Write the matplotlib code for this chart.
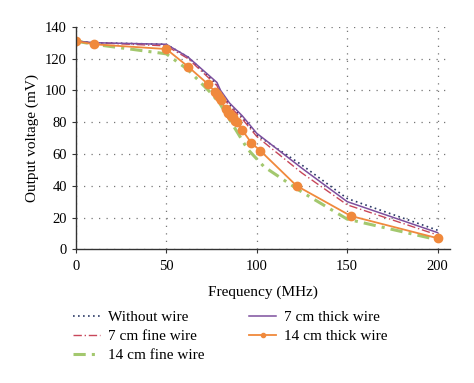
import matplotlib.pyplot as plt

plt.rcParams['font.family'] = ['Liberation Serif', 'DejaVu Serif']

# Without wire
x_none = [0, 10, 50, 62, 78, 80, 85, 92, 100, 125, 150, 200]
y_none = [131, 130, 129, 121, 104, 99, 91, 83, 72, 53, 32, 12]
# 7 cm fine wire
x_7fine = [0, 10, 50, 62, 78, 80, 85, 92, 100, 125, 150, 200]
y_7fine = [131, 130, 128, 120, 103, 98, 90, 82, 71, 48, 28, 9]
# 14 cm fine wire
x_14fine = [0, 10, 50, 62, 75, 80, 88, 95, 104, 125, 150, 200]
y_14fine = [131, 129, 123, 113, 98, 91, 76, 63, 52, 36, 19, 6]
# 7 cm thick wire
x_7thick = [0, 10, 50, 62, 78, 80, 85, 92, 100, 125, 150, 200]
y_7thick = [131, 130, 129, 121, 105, 100, 92, 84, 73, 51, 30, 10.5]
# 14 cm thick wire
x_14thick = [0, 10, 50, 62, 73, 77, 78, 79, 80, 83, 84, 85, 86, 87, 88, 89,
             92, 97, 102, 122, 152, 200]
y_14thick = [131, 129, 126, 115, 104, 99, 98, 96, 94, 88, 86, 85, 84, 83, 81,
             80, 75, 67, 62, 40, 21, 7]

fig = plt.figure(figsize=(4.74, 3.83), dpi=100)
ax = fig.add_axes([0.16, 0.349, 0.79, 0.581])

ax.plot(x_none, y_none, linestyle=(0, (1, 2)), color='#2b3a67', lw=1.2,
        label='Without wire')
ax.plot(x_7fine, y_7fine, linestyle=(0, (6, 2, 1, 2)), color='#c8475a',
        lw=1.0, label='7 cm fine wire')
ax.plot(x_14fine, y_14fine, linestyle=(0, (4, 2, 1, 2)), color='#a3c86e',
        lw=2.2, label='14 cm fine wire')
ax.plot(x_7thick, y_7thick, color='#7d4f9e', lw=1.1, label='7 cm thick wire')
ax.plot(x_14thick, y_14thick, color='#f0893c', lw=1.3, marker='o', ms=6,
        label='14 cm thick wire')

ax.set_xlim(0, 207)
ax.set_ylim(0, 140)
ax.set_xticks([0, 50, 100, 150, 200])
ax.set_yticks(range(0, 141, 20))
ax.grid(True, linestyle=(0, (1, 5)), color='#777777', lw=0.9)
for s in ['top', 'right']:
    ax.spines[s].set_visible(False)
for s in ['left', 'bottom']:
    ax.spines[s].set_color('#333333')
    ax.spines[s].set_linewidth(1.0)
ax.tick_params(labelsize=10.5, length=3, color='#333333')
ax.tick_params(axis='x', pad=5)

ax.set_xlabel('Frequency (MHz)', fontsize=11, labelpad=9)
ax.set_ylabel('Output voltage (mV)', fontsize=11)

ax.legend(loc='upper left', bbox_to_anchor=(-0.024, -0.246), ncol=2,
          frameon=False, fontsize=11, handlelength=1.8, handletextpad=0.5,
          columnspacing=2.9, labelspacing=0.36, borderaxespad=0,
          markerscale=0.5)

fig.savefig('out.png', dpi=100)
